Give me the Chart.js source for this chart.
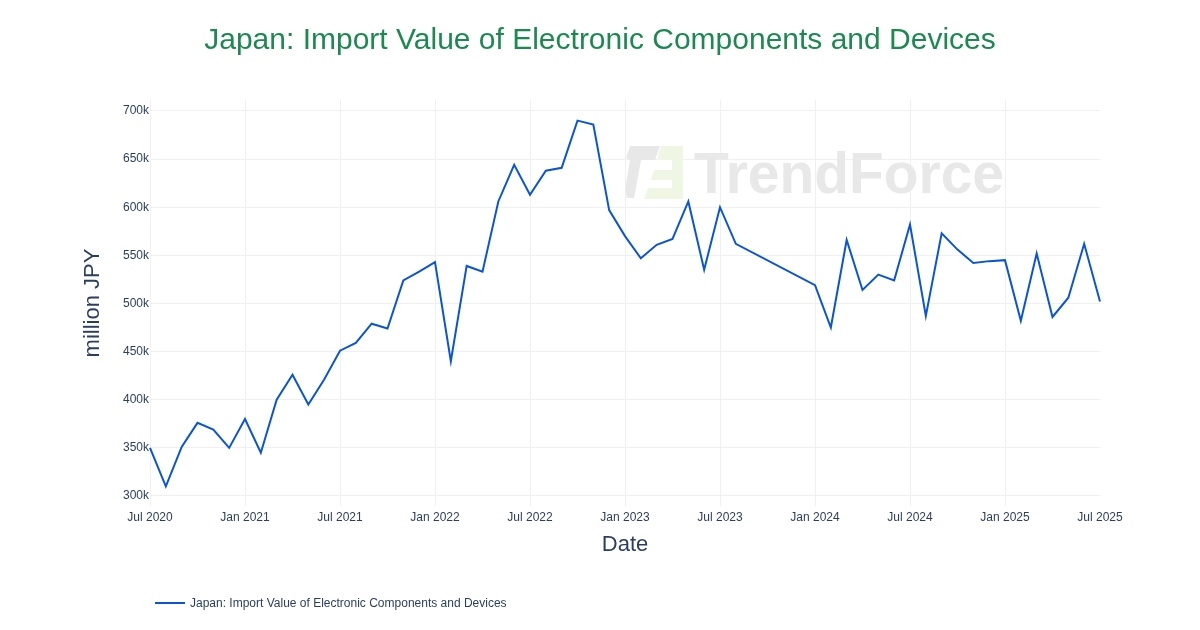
<!DOCTYPE html>
<html>
<head>
<meta charset="utf-8">
<script src="https://cdn.jsdelivr.net/npm/chart.js@4.4.1/dist/chart.umd.min.js"></script>
<style>
  html, body { margin: 0; padding: 0; background: #ffffff; }
  #wrap { width: 1200px; height: 630px; position: relative; }
</style>
</head>
<body>
<div id="wrap"><canvas id="c" width="1200" height="630"></canvas></div>
<script>
const chartTitle = 'Japan: Import Value of Electronic Components and Devices';
const seriesName = 'Japan: Import Value of Electronic Components and Devices';
const months = [
  'Jul 2020','Aug 2020','Sep 2020','Oct 2020','Nov 2020','Dec 2020',
  'Jan 2021','Feb 2021','Mar 2021','Apr 2021','May 2021','Jun 2021','Jul 2021','Aug 2021','Sep 2021','Oct 2021','Nov 2021','Dec 2021',
  'Jan 2022','Feb 2022','Mar 2022','Apr 2022','May 2022','Jun 2022','Jul 2022','Aug 2022','Sep 2022','Oct 2022','Nov 2022','Dec 2022',
  'Jan 2023','Feb 2023','Mar 2023','Apr 2023','May 2023','Jun 2023','Jul 2023','Aug 2023','Sep 2023','Oct 2023','Nov 2023','Dec 2023',
  'Jan 2024','Feb 2024','Mar 2024','Apr 2024','May 2024','Jun 2024','Jul 2024','Aug 2024','Sep 2024','Oct 2024','Nov 2024','Dec 2024',
  'Jan 2025','Feb 2025','Mar 2025','Apr 2025','May 2025','Jun 2025','Jul 2025'
];
const importValue = [
  350000, 310000, 351000, 376000, 369000, 350000,
  380000, 345000, 400000, 426000, 395000, 421000, 451000, 459000, 479000, 474000, 524000, 533000,
  543000, 440000, 539000, 533000, 606000, 644000, 613000, 638000, 641000, 690000, 686000, 597000,
  570000, 547000, 561000, 567000, 606000, 535000, 600000, 562000, null, null, null, null,
  519000, 475000, 566000, 514000, 530000, 524000, 582000, 487000, 573000, 556000, 542000, 544000,
  545000, 482000, 552000, 486000, 506000, 562000, 502000
];
const xTickLabels = ['Jul 2020','Jan 2021','Jul 2021','Jan 2022','Jul 2022','Jan 2023','Jul 2023','Jan 2024','Jul 2024','Jan 2025','Jul 2025'];
const yTickValues = [300000, 350000, 400000, 450000, 500000, 550000, 600000, 650000, 700000];

const FONT = "'Liberation Sans', Arial, sans-serif";
const TEXT = '#2a3f5f';
const LINE = '#0a55d6';
const GRID = '#f0f0f0';

const decor = {
  id: 'decor',
  beforeDatasetsDraw(chart) {
    const ctx = chart.ctx;
    ctx.save();
    ctx.fillStyle = '#e8e8e8';
    ctx.beginPath();
    ctx.moveTo(630, 146); ctx.lineTo(660, 146); ctx.lineTo(655, 160); ctx.lineTo(641, 160);
    ctx.lineTo(634, 198); ctx.lineTo(627, 198); ctx.lineTo(625, 190); ctx.lineTo(630, 160);
    ctx.lineTo(626, 158);
    ctx.closePath(); ctx.fill();
    ctx.fillStyle = '#f0f6e4';
    ctx.beginPath();
    ctx.moveTo(661, 146); ctx.lineTo(683, 146); ctx.lineTo(683, 199); ctx.lineTo(644, 199);
    ctx.lineTo(648, 188); ctx.lineTo(672, 188); ctx.lineTo(672, 180); ctx.lineTo(651, 180);
    ctx.lineTo(654, 170); ctx.lineTo(672, 170); ctx.lineTo(672, 160); ctx.lineTo(657, 160);
    ctx.closePath(); ctx.fill();
    ctx.fillStyle = '#e8e8e8';
    ctx.font = "bold 58px 'Liberation Sans', Arial, sans-serif";
    ctx.textBaseline = 'alphabetic';
    ctx.textAlign = 'left';
    const w = ctx.measureText('TrendForce').width;
    ctx.save();
    ctx.translate(694, 193);
    ctx.scale(310 / w, 1);
    ctx.fillText('TrendForce', 0, 0);
    ctx.restore();
    ctx.restore();
  },
  afterDraw(chart) {
    const ctx = chart.ctx;
    ctx.save();
    ctx.fillStyle = '#1b8a50';
    ctx.font = "30px " + FONT;
    ctx.textAlign = 'center';
    ctx.textBaseline = 'middle';
    ctx.fillText(chartTitle, 600, 41);
    ctx.strokeStyle = LINE;
    ctx.lineWidth = 2;
    ctx.beginPath(); ctx.moveTo(155, 603); ctx.lineTo(185, 603); ctx.stroke();
    ctx.fillStyle = TEXT;
    ctx.font = "12px " + FONT;
    ctx.textAlign = 'left';
    ctx.fillText(seriesName, 190, 604);
    ctx.restore();
  }
};

new Chart(document.getElementById('c'), {
  type: 'line',
  data: {
    labels: months,
    datasets: [{
      label: seriesName,
      data: importValue,
      borderColor: LINE,
      backgroundColor: LINE,
      borderWidth: 2,
      pointRadius: 0,
      tension: 0,
      spanGaps: true
    }]
  },
  options: {
    responsive: false,
    animation: false,
    devicePixelRatio: 1,
    layout: { padding: { left: 0, right: 100, top: 100, bottom: 0 } },
    plugins: { legend: { display: false }, title: { display: false }, tooltip: { enabled: false } },
    scales: {
      x: {
        type: 'category',
        afterFit(s) { s.height = 124; },
        grid: {
          color: (c) => ((c.tick && c.tick.value === months.length - 1) ? 'rgba(0,0,0,0)' : GRID),
          lineWidth: 1, drawTicks: false
        },
        border: { display: false },
        ticks: {
          autoSkip: false, maxRotation: 0, padding: 4,
          color: TEXT, font: { family: FONT, size: 12 },
          callback(v, i) { const l = months[i]; return xTickLabels.includes(l) ? l : null; }
        },
        title: { display: true, text: 'Date', color: TEXT, font: { family: FONT, size: 22 }, padding: { top: 0, bottom: 72 } }
      },
      y: {
        min: 289600, max: 711400,
        afterFit(s) { s.width = 150; },
        afterBuildTicks(s) { s.ticks = yTickValues.map(v => ({ value: v })); },
        grid: { color: GRID, lineWidth: 1, drawTicks: false },
        border: { display: false },
        ticks: {
          padding: 1, color: TEXT, font: { family: FONT, size: 12 },
          callback(v) { return (v / 1000) + 'k'; }
        },
        title: { display: true, text: 'million JPY', color: TEXT, font: { family: FONT, size: 22 }, padding: { top: 80, bottom: 0 } }
      }
    }
  },
  plugins: [decor]
});
</script>
</body>
</html>
